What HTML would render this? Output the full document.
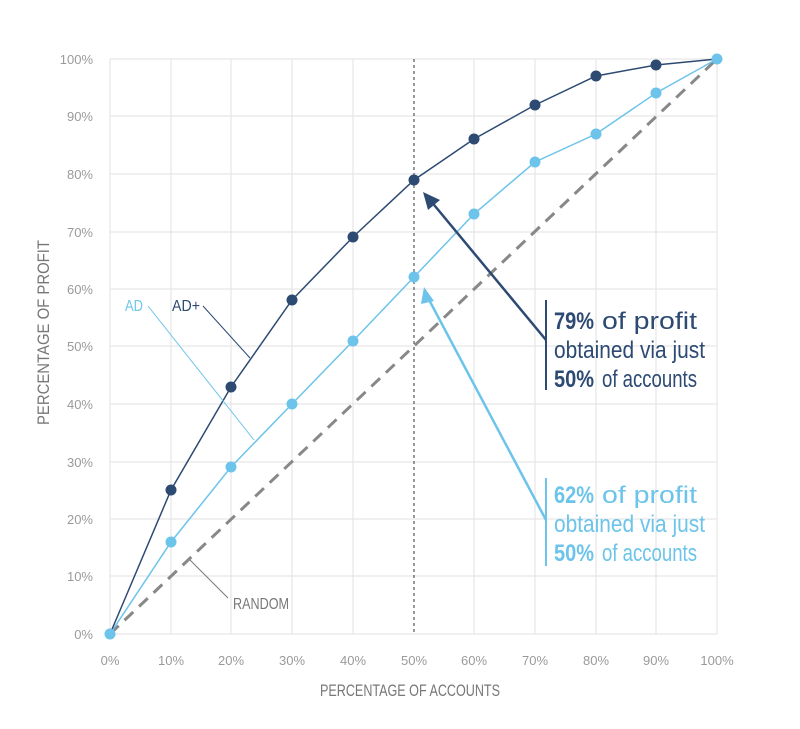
<!DOCTYPE html><html><head><style>body{margin:0;background:#fff}svg{font-family:"Liberation Sans Narrow","Liberation Sans",sans-serif}</style></head><body>
<svg width="800" height="724" viewBox="0 0 800 724" xmlns="http://www.w3.org/2000/svg">
<g stroke="#e6e6e6" stroke-width="1.2" fill="none">
<path d="M110 59V634M171 59V634M231 59V634M292 59V634M353 59V634M474 59V634M535 59V634M596 59V634M656 59V634M717 59V634"/>
<path d="M110 59H717M110 116H717M110 174H717M110 232H717M110 289H717M110 346H717M110 404H717M110 462H717M110 519H717M110 576H717M110 634H717"/>
</g>
<line x1="414" y1="59" x2="414" y2="634" stroke="#555" stroke-width="1.2" stroke-dasharray="3,3"/>
<line x1="110" y1="634" x2="717" y2="59" stroke="#888" stroke-width="3" stroke-dasharray="12,8"/>
<g fill="#9a9a9a" font-size="13" text-anchor="end">
<text x="93" y="64">100%</text><text x="93" y="121">90%</text><text x="93" y="179">80%</text><text x="93" y="237">70%</text><text x="93" y="294">60%</text><text x="93" y="351">50%</text><text x="93" y="409">40%</text><text x="93" y="467">30%</text><text x="93" y="524">20%</text><text x="93" y="581">10%</text><text x="93" y="639">0%</text>
</g>
<g fill="#9a9a9a" font-size="13" text-anchor="middle">
<text x="110" y="665">0%</text><text x="171" y="665">10%</text><text x="231" y="665">20%</text><text x="292" y="665">30%</text><text x="353" y="665">40%</text><text x="414" y="665">50%</text><text x="474" y="665">60%</text><text x="535" y="665">70%</text><text x="596" y="665">80%</text><text x="656" y="665">90%</text><text x="717" y="665">100%</text>
</g>
<text x="320" y="696" fill="#777" font-size="17" textLength="180" lengthAdjust="spacingAndGlyphs">PERCENTAGE OF ACCOUNTS</text>
<text transform="translate(49,425) rotate(-90)" fill="#777" font-size="17" textLength="185" lengthAdjust="spacingAndGlyphs">PERCENTAGE OF PROFIT</text>
<polyline fill="none" stroke="#6cc4ea" stroke-width="1.5" points="110,634 171,542 231,467 292,404 353,341 414,277 474,214 535,162 596,134 656,93 717,59"/>
<polyline fill="none" stroke="#2d4a73" stroke-width="1.5" points="110,634 171,490 231,387 292,300 353,237 414,180 474,139 535,105 596,76 656,65 717,59"/>
<g fill="#6cc4ea"><circle cx="110" cy="634" r="5.5"/><circle cx="171" cy="542" r="5.5"/><circle cx="231" cy="467" r="5.5"/><circle cx="292" cy="404" r="5.5"/><circle cx="353" cy="341" r="5.5"/><circle cx="414" cy="277" r="5.5"/><circle cx="474" cy="214" r="5.5"/><circle cx="535" cy="162" r="5.5"/><circle cx="596" cy="134" r="5.5"/><circle cx="656" cy="93" r="5.5"/><circle cx="717" cy="59" r="5.5"/></g>
<g fill="#2d4a73"><circle cx="171" cy="490" r="5.5"/><circle cx="231" cy="387" r="5.5"/><circle cx="292" cy="300" r="5.5"/><circle cx="353" cy="237" r="5.5"/><circle cx="414" cy="180" r="5.5"/><circle cx="474" cy="139" r="5.5"/><circle cx="535" cy="105" r="5.5"/><circle cx="596" cy="76" r="5.5"/><circle cx="656" cy="65" r="5.5"/></g>
<text x="172" y="311" fill="#2d4a73" font-size="16" textLength="28" lengthAdjust="spacingAndGlyphs">AD+</text>
<line x1="203" y1="306" x2="250" y2="358" stroke="#2d4a73" stroke-width="1"/>
<text x="125" y="311" fill="#6cc4ea" font-size="16" textLength="18" lengthAdjust="spacingAndGlyphs">AD</text>
<line x1="148" y1="306" x2="254" y2="440" stroke="#6cc4ea" stroke-width="1"/>
<text x="233" y="609" fill="#777" font-size="16" textLength="56" lengthAdjust="spacingAndGlyphs">RANDOM</text>
<line x1="228" y1="598" x2="190" y2="560" stroke="#777" stroke-width="1"/>
<line x1="546" y1="340" x2="430" y2="200" stroke="#2d4a73" stroke-width="2.5"/>
<polygon points="423,192 440,200 428,210" fill="#2d4a73"/>
<line x1="546" y1="300" x2="546" y2="390" stroke="#2d4a73" stroke-width="2"/>
<g fill="#2d4a73" font-size="24">
<text x="554" y="329" font-weight="bold" textLength="40" lengthAdjust="spacingAndGlyphs">79%</text><text x="602" y="329" textLength="95" lengthAdjust="spacingAndGlyphs">of profit</text>
<text x="554" y="358" textLength="151" lengthAdjust="spacingAndGlyphs">obtained via just</text>
<text x="554" y="387" font-weight="bold" textLength="40" lengthAdjust="spacingAndGlyphs">50%</text><text x="602" y="387" textLength="95" lengthAdjust="spacingAndGlyphs">of accounts</text></g>
<line x1="546" y1="520" x2="427" y2="296" stroke="#6cc4ea" stroke-width="2.5"/>
<polygon points="424,287 434,301 421,304" fill="#6cc4ea"/>
<line x1="546" y1="478" x2="546" y2="566" stroke="#6cc4ea" stroke-width="2"/>
<g fill="#6cc4ea" font-size="24">
<text x="554" y="503" font-weight="bold" textLength="40" lengthAdjust="spacingAndGlyphs">62%</text><text x="602" y="503" textLength="95" lengthAdjust="spacingAndGlyphs">of profit</text>
<text x="554" y="532" textLength="151" lengthAdjust="spacingAndGlyphs">obtained via just</text>
<text x="554" y="561" font-weight="bold" textLength="40" lengthAdjust="spacingAndGlyphs">50%</text><text x="602" y="561" textLength="95" lengthAdjust="spacingAndGlyphs">of accounts</text></g>
</svg></body></html>
